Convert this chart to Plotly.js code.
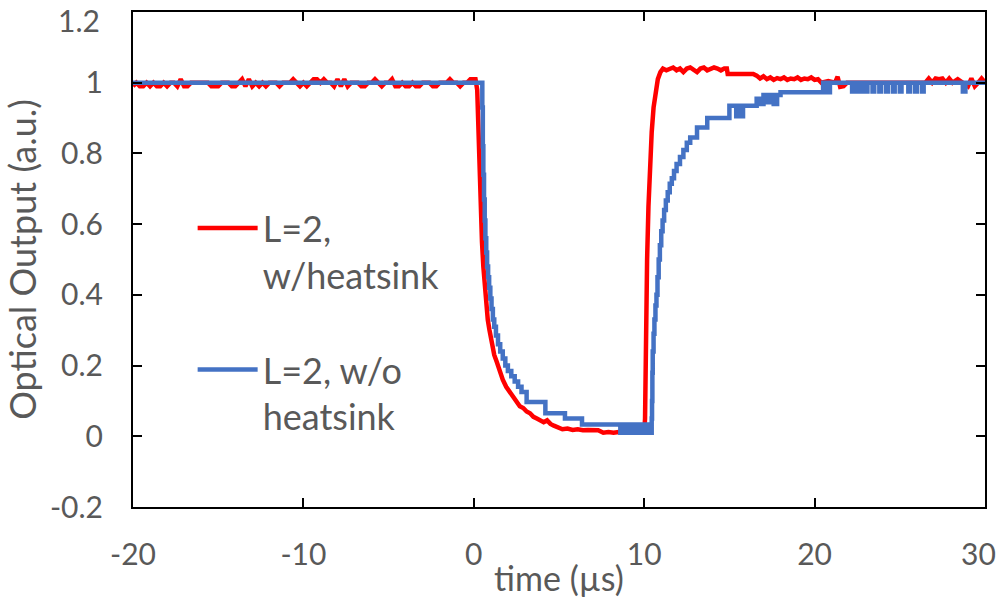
<!DOCTYPE html>
<html><head><meta charset="utf-8">
<script src="https://cdn.plot.ly/plotly-3.0.1.min.js"></script>
<style>html,body{margin:0;padding:0;background:#fff}#chart{width:1000px;height:598px}</style>
</head><body><div id="chart"></div>
<script>
// Series names (legend)
const seriesNames = ['L=2,<br>w/heatsink', 'L=2, w/o<br>heatsink'];
const seriesColors = ['#ff0000', '#4472c4'];

// L=2, w/heatsink (red) — time (µs) and optical output (a.u.)
const redX = [
  -20,-19.8,-19.6,-19.4,-19.2,-19,-18.8,-18.6,-18.4,-18.2,-18,-17.8,-17.6,-17.4,-17.2,-17,-16.8,-16.6,-16.4,-16.2,
  -16,-15.8,-15.6,-15.4,-15.2,-15,-14.8,-14.6,-14.4,-14.2,-14,-13.8,-13.6,-13.4,-13.2,-13,-12.8,-12.6,-12.4,-12.2,
  -12,-11.8,-11.6,-11.4,-11.2,-11,-10.8,-10.6,-10.4,-10.2,-10,-9.8,-9.6,-9.4,-9.2,-9,-8.8,-8.6,-8.4,-8.2,
  -8,-7.8,-7.6,-7.4,-7.2,-7,-6.8,-6.6,-6.4,-6.2,-6,-5.8,-5.6,-5.4,-5.2,-5,-4.8,-4.6,-4.4,-4.2,
  -4,-3.8,-3.6,-3.4,-3.2,-3,-2.8,-2.6,-2.4,-2.2,-2,-1.8,-1.6,-1.4,-1.2,-1,-0.8,-0.6,-0.4,-0.2,
  0,0.1,0.2,0.27,0.34,0.41,0.48,0.56,0.64,0.72,0.82,0.92,1.05,1.2,1.35,1.5,1.7,1.9,2.1,2.3,
  2.5,2.7,2.9,3.1,3.3,3.5,3.7,3.9,4.1,4.3,4.5,4.7,4.9,5.2,5.5,5.8,6.1,6.4,6.7,7,
  7.3,7.6,7.9,8.2,8.5,8.8,9.1,9.4,9.7,10,10.05,10.1,10.17,10.25,10.33,10.44,10.55,10.65,10.8,10.95,
  11.1,11.3,11.5,11.7,11.9,12.1,12.3,12.5,12.7,12.9,13.1,13.3,13.5,13.7,13.9,14.1,14.3,14.5,14.7,14.85,
  14.9,15.2,15.5,15.8,16.1,16.4,16.6,16.8,17,17.2,17.4,17.6,17.8,18,18.2,18.4,18.6,18.8,19,19.2,
  19.4,19.6,19.8,20,20.2,20.4,20.8,21.2,21.35,21.5,21.7,21.9,22.5,23.1,23.7,24.3,24.9,25.5,26.1,26.5,
  26.7,26.9,27.1,27.3,27.5,27.7,27.9,28.1,28.4,28.7,29,29.2,29.4,29.6,29.8,30
];
const redY = [
  0.99,1,0.99,0.99,1,0.99,1,0.99,0.99,1,0.99,1,1,0.99,1.01,0.99,0.99,1,1,1,
  1,1,1,0.99,0.99,0.99,1,1,1,0.99,0.99,1,1.01,0.99,1.01,0.99,1,0.99,1,0.99,
  1,1,1,0.99,1,1,1,1.01,1,0.99,1,0.99,1,1.01,1.01,1,1.01,1,1,0.99,
  1.01,0.99,1.01,0.99,1,1,1,0.99,0.99,1,1,1.01,1,0.99,1,1,1.01,0.99,0.99,1,
  0.99,0.99,1,0.99,0.99,1,1,1,0.99,0.99,1,1,1,1.01,1,1,0.99,1,1,1.01,
  1.01,1.01,0.98,0.85,0.72,0.62,0.55,0.48,0.42,0.38,0.33,0.3,0.26,0.23,0.21,0.185,0.16,0.14,0.125,0.11,
  0.1,0.085,0.08,0.07,0.065,0.055,0.05,0.045,0.04,0.045,0.035,0.03,0.025,0.02,0.022,0.018,0.02,0.017,0.018,0.016,
  0.017,0.01,0.012,0.01,0.012,0.01,0.012,0.01,0.01,0.01,0.05,0.3,0.5,0.65,0.76,0.86,0.93,0.97,1.01,1.03,
  1.04,1.035,1.04,1.043,1.035,1.04,1.03,1.04,1.043,1.035,1.03,1.04,1.043,1.035,1.04,1.043,1.04,1.035,1.04,1.04,
  1.025,1.025,1.023,1.025,1.022,1.025,1.02,1.012,1.018,1.01,1.015,1.008,1.013,1.01,1.015,1.008,1.012,1.01,1.015,1.008,
  1.012,1.01,1.015,1.008,1.01,1,1.005,1,1.017,0.988,0.99,1,1,1,1,1,1,1,1,1,
  1.012,1,1.012,1.01,1.012,1,1.012,1,1.01,1,0.99,1.012,0.99,1,1.012,1
];

// L=2, w/o heatsink (blue) — time (µs) and optical output (a.u.), stepped
const blueX = [
  -20,0.48,0.5,0.53,0.56,0.6,0.64,0.68,0.73,0.78,0.84,0.9,0.97,1.04,1.12,1.2,1.3,1.42,1.55,1.7,
  1.85,2,2.2,2.4,2.6,2.8,3.1,4.2,5.35,6.35,8.6,8.75,8.9,9,9.2,9.35,9.6,9.75,9.9,10.05,
  10.15,10.3,10.4,10.44,10.46,10.48,10.5,10.55,10.6,10.66,10.72,10.78,10.85,10.92,11,11.08,11.17,11.27,11.38,11.5,
  11.62,11.75,11.9,12.1,12.3,12.5,12.7,13.1,13.7,15,15.4,15.5,15.7,15.8,16.6,16.8,17,17.2,17.4,17.6,
  17.8,18,20.5,20.7,20.9,22.2,22.35,22.6,22.75,23,23.1,23.4,23.5,23.8,23.9,24.2,24.3,24.6,24.7,25,
  25.1,25.5,25.6,25.9,26,26.3,26.4,28.7,28.85,30
];
const blueY = [
  1,1,0.93,0.82,0.74,0.67,0.61,0.56,0.52,0.48,0.45,0.42,0.39,0.36,0.33,0.31,0.285,0.26,0.24,0.22,
  0.2,0.185,0.17,0.155,0.14,0.125,0.097,0.065,0.05,0.033,0.01,0.033,0.01,0.033,0.01,0.033,0.01,0.033,0.01,0.033,
  0.01,0.033,0.01,0.05,0.1,0.18,0.24,0.29,0.33,0.37,0.4,0.45,0.5,0.54,0.58,0.61,0.64,0.667,0.69,0.714,
  0.73,0.75,0.77,0.79,0.81,0.83,0.845,0.873,0.9,0.935,0.905,0.935,0.905,0.935,0.955,0.94,0.965,0.945,0.965,0.94,
  0.965,0.973,1,0.973,1,0.975,1,0.975,1,0.975,1,0.975,1,0.975,1,0.975,1,0.975,1,0.975,
  1,0.975,1,0.975,1,0.975,1,0.975,1,1
];

// Axis ticks (the last label of each axis is placed separately so it stays inside the page, as in the original)
const xTickVals = [-20, -10, 0, 10, 20, 30];
const xTickText = ['-20', '-10', '0', '10', '20', '30'];
const yTickVals = [-0.2, 0, 0.2, 0.4, 0.6, 0.8, 1, 1.2];
const yTickText = ['-0.2', '0', '0.2', '0.4', '0.6', '0.8', '1', '1.2'];

const FONT = 'Lato, "Open Sans", sans-serif';
const GREY = '#595959';

const traces = [
  {x: redX, y: redY, type: 'scatter', mode: 'lines', name: seriesNames[0], legendgroup: 'a',
   line: {color: seriesColors[0], width: 4.5}},
  {x: blueX, y: blueY, type: 'scatter', mode: 'lines', name: seriesNames[1], legendgroup: 'b',
   line: {color: seriesColors[1], width: 4.5, shape: 'hv'}}
];

const axisCommon = {
  showline: true, linecolor: '#000', linewidth: 2, mirror: 'ticks',
  ticks: 'inside', ticklen: 9, tickwidth: 2, tickcolor: '#000',
  showgrid: false, zeroline: false, ticklabeloverflow: 'allow',
  tickfont: {family: FONT, size: 30, color: GREY}
};

const lastX = xTickVals.length - 1;
const lastY = yTickVals.length - 1;
const xLabelsShown = xTickText.map((t, i) => i === lastX ? '' : t);
const yLabelsShown = yTickText.map((t, i) => i === lastY ? '' : t);

const layout = {
  width: 1000, height: 598,
  margin: {l: 133, r: 15, t: 12, b: 91},
  paper_bgcolor: '#fff', plot_bgcolor: '#fff',
  font: {family: FONT, color: GREY},
  showlegend: true,
  legend: {x: 0.07, y: 0.624, xanchor: 'left', yanchor: 'top', bgcolor: 'rgba(0,0,0,0)',
           font: {family: FONT, size: 36, color: GREY}, itemwidth: 60, valign: 'top',
           traceorder: 'grouped', tracegroupgap: 45},
  xaxis: Object.assign({}, axisCommon, {
    range: [-20, 30], tickvals: xTickVals, ticktext: xLabelsShown, ticklabelstandoff: 20,
    title: {text: 'time (µs)', font: {family: FONT, size: 34, color: GREY}, standoff: 0}
  }),
  yaxis: Object.assign({}, axisCommon, {
    range: [-0.2, 1.2], tickvals: yTickVals, ticktext: yLabelsShown, ticklabelstandoff: 22,
    title: {text: 'Optical Output (a.u.)', font: {family: FONT, size: 36, color: GREY}, standoff: 20}
  }),
  annotations: [
    {x: xTickVals[lastX], xref: 'x', y: 0, yref: 'paper', text: xTickText[lastX],
     xanchor: 'right', yanchor: 'middle', xshift: 13, yshift: -46, showarrow: false,
     font: {family: FONT, size: 30, color: GREY}},
    {x: 0, xref: 'paper', y: yTickVals[lastY], yref: 'y', text: yTickText[lastY],
     xanchor: 'right', yanchor: 'top', xshift: -31, yshift: 12, showarrow: false,
     font: {family: FONT, size: 30, color: GREY}}
  ]
};

Plotly.newPlot('chart', traces, layout, {staticPlot: true, displayModeBar: false});
</script>
</body></html>
